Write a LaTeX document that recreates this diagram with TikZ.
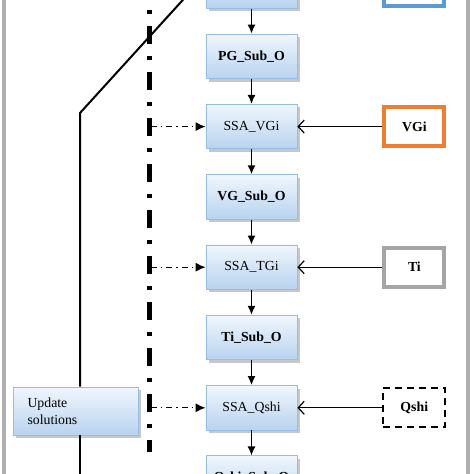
\documentclass[tikz,border=0pt]{standalone}
\usepackage{fontspec}
\setmainfont{Liberation Serif}
\usetikzlibrary{arrows.meta,positioning,shadows}
\definecolor{ssaEdge}{RGB}{150,190,228}
\definecolor{ssaTop}{RGB}{240,246,253}
\definecolor{ssaBot}{RGB}{184,211,239}
\definecolor{pgBlue}{RGB}{91,155,213}
\definecolor{vgOrange}{RGB}{237,125,49}
\definecolor{tiGray}{RGB}{165,165,165}
\definecolor{frameGray}{RGB}{175,175,175}
\tikzset{
  stepbox/.style={draw=ssaEdge, line width=0.8pt, top color=ssaTop, bottom color=ssaBot,
              minimum width=91pt, minimum height=44.5pt, inner sep=3pt, align=center,
              font=\fontsize{13.8}{17}\selectfont,
              drop shadow={shadow xshift=3pt, shadow yshift=-3pt, fill=gray!55, opacity=0.8}},
  subbox/.style={stepbox, font=\fontsize{13.8}{17}\selectfont\bfseries},
  inbox/.style={draw, fill=white, line width=4pt, minimum width=60pt, minimum height=39pt,
              font=\fontsize{13.8}{17}\selectfont\bfseries},
  downarrow/.style={-{Latex[length=9pt,width=8pt]}, line width=1.5pt},
  inarrow/.style={-{Straight Barb[length=6pt,width=13pt]}, line width=1.2pt},
  ctrlarrow/.style={-{Latex[length=10pt,width=9pt]}, line width=1.2pt,
              dash pattern=on 6pt off 4pt on 1.5pt off 4pt},
  ctrlline/.style={line width=4.5pt, dash pattern=on 18pt off 12pt on 4pt off 12pt},
  loopline/.style={line width=2pt}
}
\begin{document}
\begin{tikzpicture}[x=1pt, y=-1pt, node distance=25pt]
\useasboundingbox (0,0) rectangle (474,474);
\clip (0,0) rectangle (474,474);
\draw[frameGray, line width=4pt] (4,-10) rectangle (468,490);

% main column
\node[stepbox] (ssaPG) at (251.5,-14) {};
\node[subbox, below=of ssaPG] (pgSub) {PG\_Sub\_O};
\node[stepbox, below=of pgSub] (ssaVG) {SSA\_VGi};
\node[subbox, below=of ssaVG] (vgSub) {VG\_Sub\_O};
\node[stepbox, below=of vgSub] (ssaTG) {SSA\_TGi};
\node[subbox, below=of ssaTG] (tiSub) {Ti\_Sub\_O};
\node[stepbox, below=of tiSub] (ssaQ) {SSA\_Qshi};
\node[subbox, below=of ssaQ] (qSub) {Qshi\_Sub\_O};

% inputs on the right
\node[inbox, draw=pgBlue, right=85pt of ssaPG] (pgIn) {};
\node[inbox, draw=vgOrange, right=85pt of ssaVG] (vgIn) {VGi};
\node[inbox, draw=tiGray, right=85pt of ssaTG] (tiIn) {Ti};
\node[inbox, line width=1.8pt, dash pattern=on 7pt off 5pt, minimum width=62pt,
      minimum height=39pt, right=85pt of ssaQ] (qIn) {Qshi};

\foreach \a/\b in {ssaPG/pgSub, pgSub/ssaVG, ssaVG/vgSub, vgSub/ssaTG, ssaTG/tiSub, tiSub/ssaQ, ssaQ/qSub}
  \draw[downarrow] (\a) -- (\b);
\foreach \a/\b in {vgIn/ssaVG, tiIn/ssaTG, qIn/ssaQ}
  \draw[inarrow] (\a) -- (\b);

% update loop
\node[stepbox, minimum width=125pt, minimum height=48pt, text width=96pt, align=left,
      font=\fontsize{13.8}{17}\selectfont] (upd) at (75.5,411) {Update\\solutions};
\coordinate (loopTop) at (201,-20);
\coordinate (loopBend) at (80,113);
\coordinate (loopEnd) at (80,490);
\draw[loopline] (loopTop) -- (loopBend) -- (loopBend |- upd.north);
\draw[loopline] (loopBend |- upd.south) -- (loopEnd);

% control line
\coordinate (ctrlTop) at (149.5,-20);
\coordinate (ctrlBot) at (149.5,452);
\draw[ctrlline] (ctrlTop) -- (ctrlBot);
\foreach \n in {ssaVG, ssaTG, ssaQ}
  \draw[ctrlarrow] ([xshift=1pt]ctrlTop |- \n.west) -- (\n.west);
\end{tikzpicture}
\end{document}
